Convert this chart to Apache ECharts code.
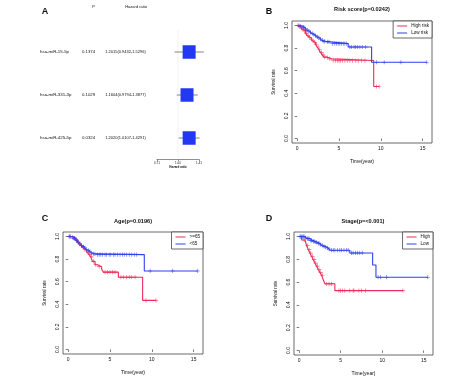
<!DOCTYPE html>
<html><head><meta charset="utf-8">
<script src="https://cdn.jsdelivr.net/npm/echarts@6/dist/echarts.min.js"></script>
<style>html,body{margin:0;padding:0;background:#fff}#c{width:474px;height:386px}</style>
</head><body><div id="c"></div><script>
// ---------- Panel A (forest plot) ----------
const mirnas = ['hsa-miR-15-5p', 'hsa-miR-331-3p', 'hsa-miR-425-5p'];
const pValues = ['0.1374', '0.1029', '0.0324'];
const hrText = ['1.2015(0.9432-1.5296)', '1.1604(0.9794-1.3877)', '1.2020(1.0107-1.4291)'];
const hr = [1.2015, 1.1604, 1.2020];
const hrLow = [0.9432, 0.9794, 1.0107];
const hrHigh = [1.5296, 1.3877, 1.4291];
const hrTickLabels = ['0.71', '1.00', '1.41'];
const hrReference = 1;

// ---------- KM panels ----------
const panelTitles = ['Risk score(p=0.0242)', 'Age(p=0.0196)', 'Stage(p=<0.001)'];
const panelLetters = ['A', 'B', 'C', 'D'];
const xTicks = [0, 5, 10, 15];
const yTicks = [0, 0.2, 0.4, 0.6, 0.8, 1.0];

// B: risk score
const riskHighT = [0, 0.2, 0.4, 0.6, 0.8, 1.0, 1.2, 1.4, 1.6, 1.8, 2.0, 2.2, 2.4, 2.6, 2.8, 3.0, 3.2, 3.5, 3.8, 4.1, 9.15, 9.8];
const riskHighS = [1, 0.99, 0.976, 0.965, 0.953, 0.93, 0.91, 0.895, 0.88, 0.865, 0.85, 0.83, 0.81, 0.785, 0.76, 0.74, 0.72, 0.715, 0.705, 0.69, 0.46, 0.46];
const riskHighCens = [0.1, 0.3, 0.5, 0.7, 0.9, 1.1, 1.3, 1.5, 1.7, 1.9, 2.1, 2.3, 2.5, 2.7, 2.9, 3.1, 3.3, 3.6, 3.9, 4.3, 4.6, 4.8, 5.0, 5.2, 5.4, 5.7, 6.0, 6.3, 6.6, 7.0, 7.3, 7.7, 8.1, 9.5, 9.8];
const riskLowT = [0, 0.3, 0.6, 0.9, 1.1, 1.3, 1.5, 1.7, 1.9, 2.1, 2.3, 2.5, 2.7, 2.9, 3.1, 3.4, 4.0, 6.1, 8.9, 15.5];
const riskLowS = [1, 0.995, 0.985, 0.97, 0.96, 0.95, 0.94, 0.93, 0.92, 0.91, 0.9, 0.89, 0.88, 0.87, 0.86, 0.855, 0.84, 0.81, 0.675, 0.675];
const riskLowCens = [0.2, 0.4, 0.7, 0.8, 1.0, 1.2, 1.4, 1.6, 1.8, 2.0, 2.2, 2.4, 2.6, 2.8, 3.0, 3.2, 3.3, 3.6, 3.8, 4.2, 4.5, 4.7, 4.9, 5.1, 5.3, 5.5, 5.7, 5.9, 6.3, 6.5, 6.8, 7.0, 7.2, 7.5, 7.8, 8.2, 9.5, 10.4, 12.4, 15.5];

// C: age
const ageOldT = [0, 0.3, 0.7, 1.1, 1.3, 1.5, 1.7, 1.9, 2.1, 2.3, 2.5, 2.7, 2.9, 3.2, 3.5, 4.0, 4.2, 6.0, 8.9, 10.5];
const ageOldS = [1, 0.995, 0.976, 0.947, 0.932, 0.917, 0.902, 0.887, 0.872, 0.858, 0.84, 0.82, 0.78, 0.75, 0.733, 0.71, 0.685, 0.64, 0.435, 0.435];
const ageOldCens = [0.2, 0.5, 0.9, 1.0, 1.2, 1.4, 1.6, 1.8, 2.0, 2.2, 2.4, 2.6, 2.8, 3.0, 3.3, 3.7, 4.4, 4.7, 5.0, 5.3, 5.6, 6.3, 6.6, 7.0, 7.3, 7.6, 8.0, 9.3, 10.5];
const ageYoungT = [0, 0.5, 0.9, 1.1, 1.3, 1.5, 1.7, 1.9, 2.1, 2.3, 2.5, 2.7, 2.9, 3.3, 9.1, 15.5];
const ageYoungS = [1, 0.985, 0.964, 0.95, 0.935, 0.922, 0.91, 0.898, 0.887, 0.877, 0.867, 0.856, 0.846, 0.84, 0.695, 0.695];
const ageYoungCens = [0.1, 0.2, 0.3, 0.6, 0.7, 0.8, 1.0, 1.2, 1.4, 1.6, 1.8, 2.0, 2.2, 2.4, 2.6, 2.8, 3.0, 3.2, 3.5, 3.7, 3.9, 4.1, 4.4, 4.6, 4.9, 5.1, 5.4, 5.6, 5.9, 6.2, 6.5, 6.7, 7.0, 7.3, 7.6, 7.9, 8.2, 9.8, 12.5, 15.5];

// D: stage
const stageHighT = [0, 0.3, 0.7, 0.9, 1.1, 1.3, 1.5, 1.7, 1.9, 2.1, 2.3, 2.5, 2.7, 2.9, 3.1, 4.3, 12.5];
const stageHighS = [1, 0.97, 0.955, 0.92, 0.885, 0.855, 0.826, 0.797, 0.767, 0.74, 0.71, 0.685, 0.66, 0.62, 0.585, 0.525, 0.525];
const stageHighCens = [0.6, 1.0, 1.2, 1.4, 1.6, 1.8, 2.0, 2.2, 2.4, 2.6, 2.8, 3.3, 3.6, 3.9, 4.8, 5.0, 5.2, 5.5, 6.1, 6.5, 6.6, 7.2, 7.5, 8.0, 12.5];
const stageLowT = [0, 0.7, 0.9, 1.3, 1.6, 1.9, 2.2, 2.5, 2.7, 2.9, 3.1, 3.3, 3.5, 3.7, 6.1, 8.85, 9.25, 15.5];
const stageLowS = [1, 0.99, 0.982, 0.967, 0.958, 0.95, 0.94, 0.93, 0.922, 0.914, 0.907, 0.9, 0.89, 0.88, 0.856, 0.75, 0.643, 0.643];
const stageLowCens = [0.1, 0.2, 0.3, 0.4, 0.5, 0.6, 0.8, 1.0, 1.1, 1.2, 1.4, 1.5, 1.7, 1.8, 2.0, 2.1, 2.3, 2.4, 2.6, 2.8, 3.0, 3.2, 3.4, 3.6, 3.9, 4.1, 4.3, 4.6, 4.9, 5.1, 5.4, 5.7, 5.9, 6.3, 6.5, 6.8, 7.0, 7.3, 7.6, 9.5, 9.8, 10.5, 15.5];

// ---------- build ----------
const RED = '#EE2B58', BLUE = '#3040EC', TXT = '#111';
const FONT = 'Liberation Sans, Arial, Helvetica, sans-serif';
const PLUS = 'path://M-1,-0.15H1V0.15H-1Z M-0.15,-1H0.15V1H-0.15Z';

function survAt(T, S, t) { let s = S[0]; for (let i = 0; i < T.length; i++) if (T[i] <= t) s = S[i]; return s; }

const kmPanels = [
  { grid: { left: 292, top: 21, width: 140, height: 122 }, curves: [
      { name: 'High risk', T: riskHighT, S: riskHighS, C: riskHighCens, color: RED },
      { name: 'Low risk', T: riskLowT, S: riskLowS, C: riskLowCens, color: BLUE }], legendRight: 42 },
  { grid: { left: 63, top: 232, width: 140, height: 122 }, curves: [
      { name: '>=65', T: ageOldT, S: ageOldS, C: ageOldCens, color: RED },
      { name: '<65', T: ageYoungT, S: ageYoungS, C: ageYoungCens, color: BLUE }], legendRight: 271 },
  { grid: { left: 294, top: 232, width: 139, height: 123 }, curves: [
      { name: 'High', T: stageHighT, S: stageHighS, C: stageHighCens, color: RED },
      { name: 'Low', T: stageLowT, S: stageLowS, C: stageLowCens, color: BLUE }], legendRight: 41 }
];

const grids = [{ left: 157, top: 30.5, width: 42, height: 129, show: false }];
const xAxes = [{
  gridIndex: 0, type: 'value', min: -Math.LN2 / 2, max: Math.LN2 / 2, interval: Math.LN2 / 2,
  axisLine: { show: true, lineStyle: { color: '#444', width: 0.6 } },
  axisTick: { show: true, length: 1.5, lineStyle: { color: '#444', width: 0.6 } },
  splitLine: { show: false },
  axisLabel: { fontSize: 3, color: TXT, margin: 2, fontFamily: FONT,
    formatter: (v, i) => hrTickLabels[i] },
  name: 'Hazard ratio', nameLocation: 'middle', nameGap: 6,
  nameTextStyle: { fontSize: 3, fontWeight: 'bold', color: TXT, fontFamily: FONT }
}];
const yAxes = [{
  gridIndex: 0, type: 'category', data: mirnas, inverse: true,
  axisLine: { show: false }, axisTick: { show: false }, splitLine: { show: false },
  axisLabel: {
    margin: 10, color: TXT, fontFamily: FONT,
    formatter: (v, i) => '{n|' + v + '}{p|' + pValues[i] + '}{s|}{h|' + hrText[i] + '}',
    rich: {
      n: { width: 42, align: 'left', fontSize: 4.4, fontFamily: FONT, color: TXT },
      p: { width: 13, align: 'right', fontSize: 4.3, fontFamily: FONT, color: TXT },
      s: { width: 9 },
      h: { width: 43, align: 'left', fontSize: 4, fontFamily: FONT, color: TXT }
    }
  }
}];
const series = [
  {
    // reference line at HR = 1
    type: 'custom', xAxisIndex: 0, yAxisIndex: 0, silent: true,
    data: [[Math.log(hrReference), 0]], encode: { x: 0, y: 1 },
    renderItem: (params, api) => {
      const cs = params.coordSys;
      const x = api.coord([api.value(0), 0])[0];
      return { type: 'line', shape: { x1: x, y1: cs.y, x2: x, y2: cs.y + cs.height },
        style: { stroke: '#d4d4d4', lineWidth: 0.6, lineDash: [1, 1] } };
    }, z: 1
  },
  {
    type: 'custom', xAxisIndex: 0, yAxisIndex: 0, silent: true,
    data: mirnas.map((m, i) => [Math.log(hrLow[i]), Math.log(hrHigh[i]), i]),
    encode: { x: [0, 1], y: 2 },
    renderItem: (params, api) => {
      const a = api.coord([api.value(0), api.value(2)]);
      const b = api.coord([api.value(1), api.value(2)]);
      return { type: 'line', shape: { x1: a[0], y1: a[1], x2: b[0], y2: b[1] }, style: { stroke: '#666', lineWidth: 0.8 } };
    },
    z: 2
  },
  {
    type: 'scatter', xAxisIndex: 0, yAxisIndex: 0, silent: true,
    data: hr.map((v, i) => [Math.log(v), i]),
    symbol: 'rect', symbolSize: [13, 13.5],
    itemStyle: { color: '#2338F2', opacity: 1 }, z: 3
  }
];
const legends = [];

kmPanels.forEach((p, k) => {
  const g = k + 1;
  grids.push(Object.assign({ show: true, borderColor: '#444', borderWidth: 0.8, backgroundColor: 'transparent' }, p.grid));
  xAxes.push({
    gridIndex: g, type: 'value', min: -0.62, max: 16.12,
    axisLine: { show: false }, splitLine: { show: false },
    axisTick: { show: true, length: 2.5, customValues: xTicks, lineStyle: { color: '#444', width: 0.7 } },
    axisLabel: { customValues: xTicks, fontSize: 5, color: TXT, margin: 3, fontFamily: FONT },
    name: 'Time(year)', nameLocation: 'middle', nameGap: 16,
    nameTextStyle: { fontSize: 5, color: TXT, fontFamily: FONT }
  });
  yAxes.push({
    gridIndex: g, type: 'value', min: -0.04, max: 1.04,
    axisLine: { show: false }, splitLine: { show: false },
    axisTick: { show: true, length: 2.5, customValues: yTicks, lineStyle: { color: '#444', width: 0.7 } },
    axisLabel: { customValues: yTicks, fontSize: 5, color: TXT, margin: 3, rotate: 90, fontFamily: FONT,
      formatter: v => v.toFixed(1) },
    name: 'Survival rate', nameLocation: 'middle', nameGap: 16, nameRotate: 90,
    nameTextStyle: { fontSize: 4.6, color: TXT, fontFamily: FONT }
  });
  p.curves.forEach(c => {
    series.push({
      type: 'line', name: c.name, xAxisIndex: g, yAxisIndex: g, step: 'end',
      data: c.T.map((t, i) => [t, c.S[i]]), showSymbol: false, symbol: 'none',
      lineStyle: { color: c.color, width: 1.1 }, itemStyle: { color: c.color }, silent: true, z: 2
    });
    series.push({
      type: 'scatter', name: c.name + ' censored', xAxisIndex: g, yAxisIndex: g,
      data: c.C.map(t => [t, survAt(c.T, c.S, t)]), symbol: PLUS, symbolSize: 4.2,
      itemStyle: { color: c.color }, silent: true, z: 3
    });
  });
  legends.push({
    data: p.curves.map(c => c.name), right: p.legendRight, top: p.grid.top, orient: 'vertical',
    selectedMode: false, icon: 'rect', itemWidth: 10, itemHeight: 1, itemGap: 1,
    padding: [2, 3, 2, 4], borderColor: '#444', borderWidth: 0.8, backgroundColor: '#fff',
    textStyle: { fontSize: 4.6, color: TXT, fontFamily: FONT, lineHeight: 6, padding: [0, 0, 0, -1] }
  });
});

function txt(text, x, y, size, weight, align) {
  return { type: 'text', x: x, y: y, silent: true,
    style: { text: text, fontSize: size, fontWeight: weight, fontFamily: FONT, fill: TXT,
      align: align, textAlign: align, verticalAlign: 'middle', textVerticalAlign: 'middle' } };
}
const graphics = [
  txt(panelLetters[0], 45, 12, 9, 'bold', 'center'),
  txt('P', 95, 7, 4, 'normal', 'right'),
  txt('Hazard ratio', 147, 7, 4, 'normal', 'right'),
  txt(panelLetters[1], 269, 12, 9, 'bold', 'center'),
  txt(panelTitles[0], 362, 9, 5.6, 'bold', 'center'),
  txt(panelLetters[2], 45, 219, 9, 'bold', 'center'),
  txt(panelTitles[1], 133, 221, 5.6, 'bold', 'center'),
  txt(panelLetters[3], 269, 219, 9, 'bold', 'center'),
  txt(panelTitles[2], 363, 221, 5.6, 'bold', 'center')
];

const chart = echarts.init(document.getElementById('c'), null, { renderer: 'canvas' });
chart.setOption({
  animation: false, backgroundColor: '#fff',
  grid: grids, xAxis: xAxes, yAxis: yAxes, series: series, legend: legends, graphic: graphics
});
</script></body></html>
